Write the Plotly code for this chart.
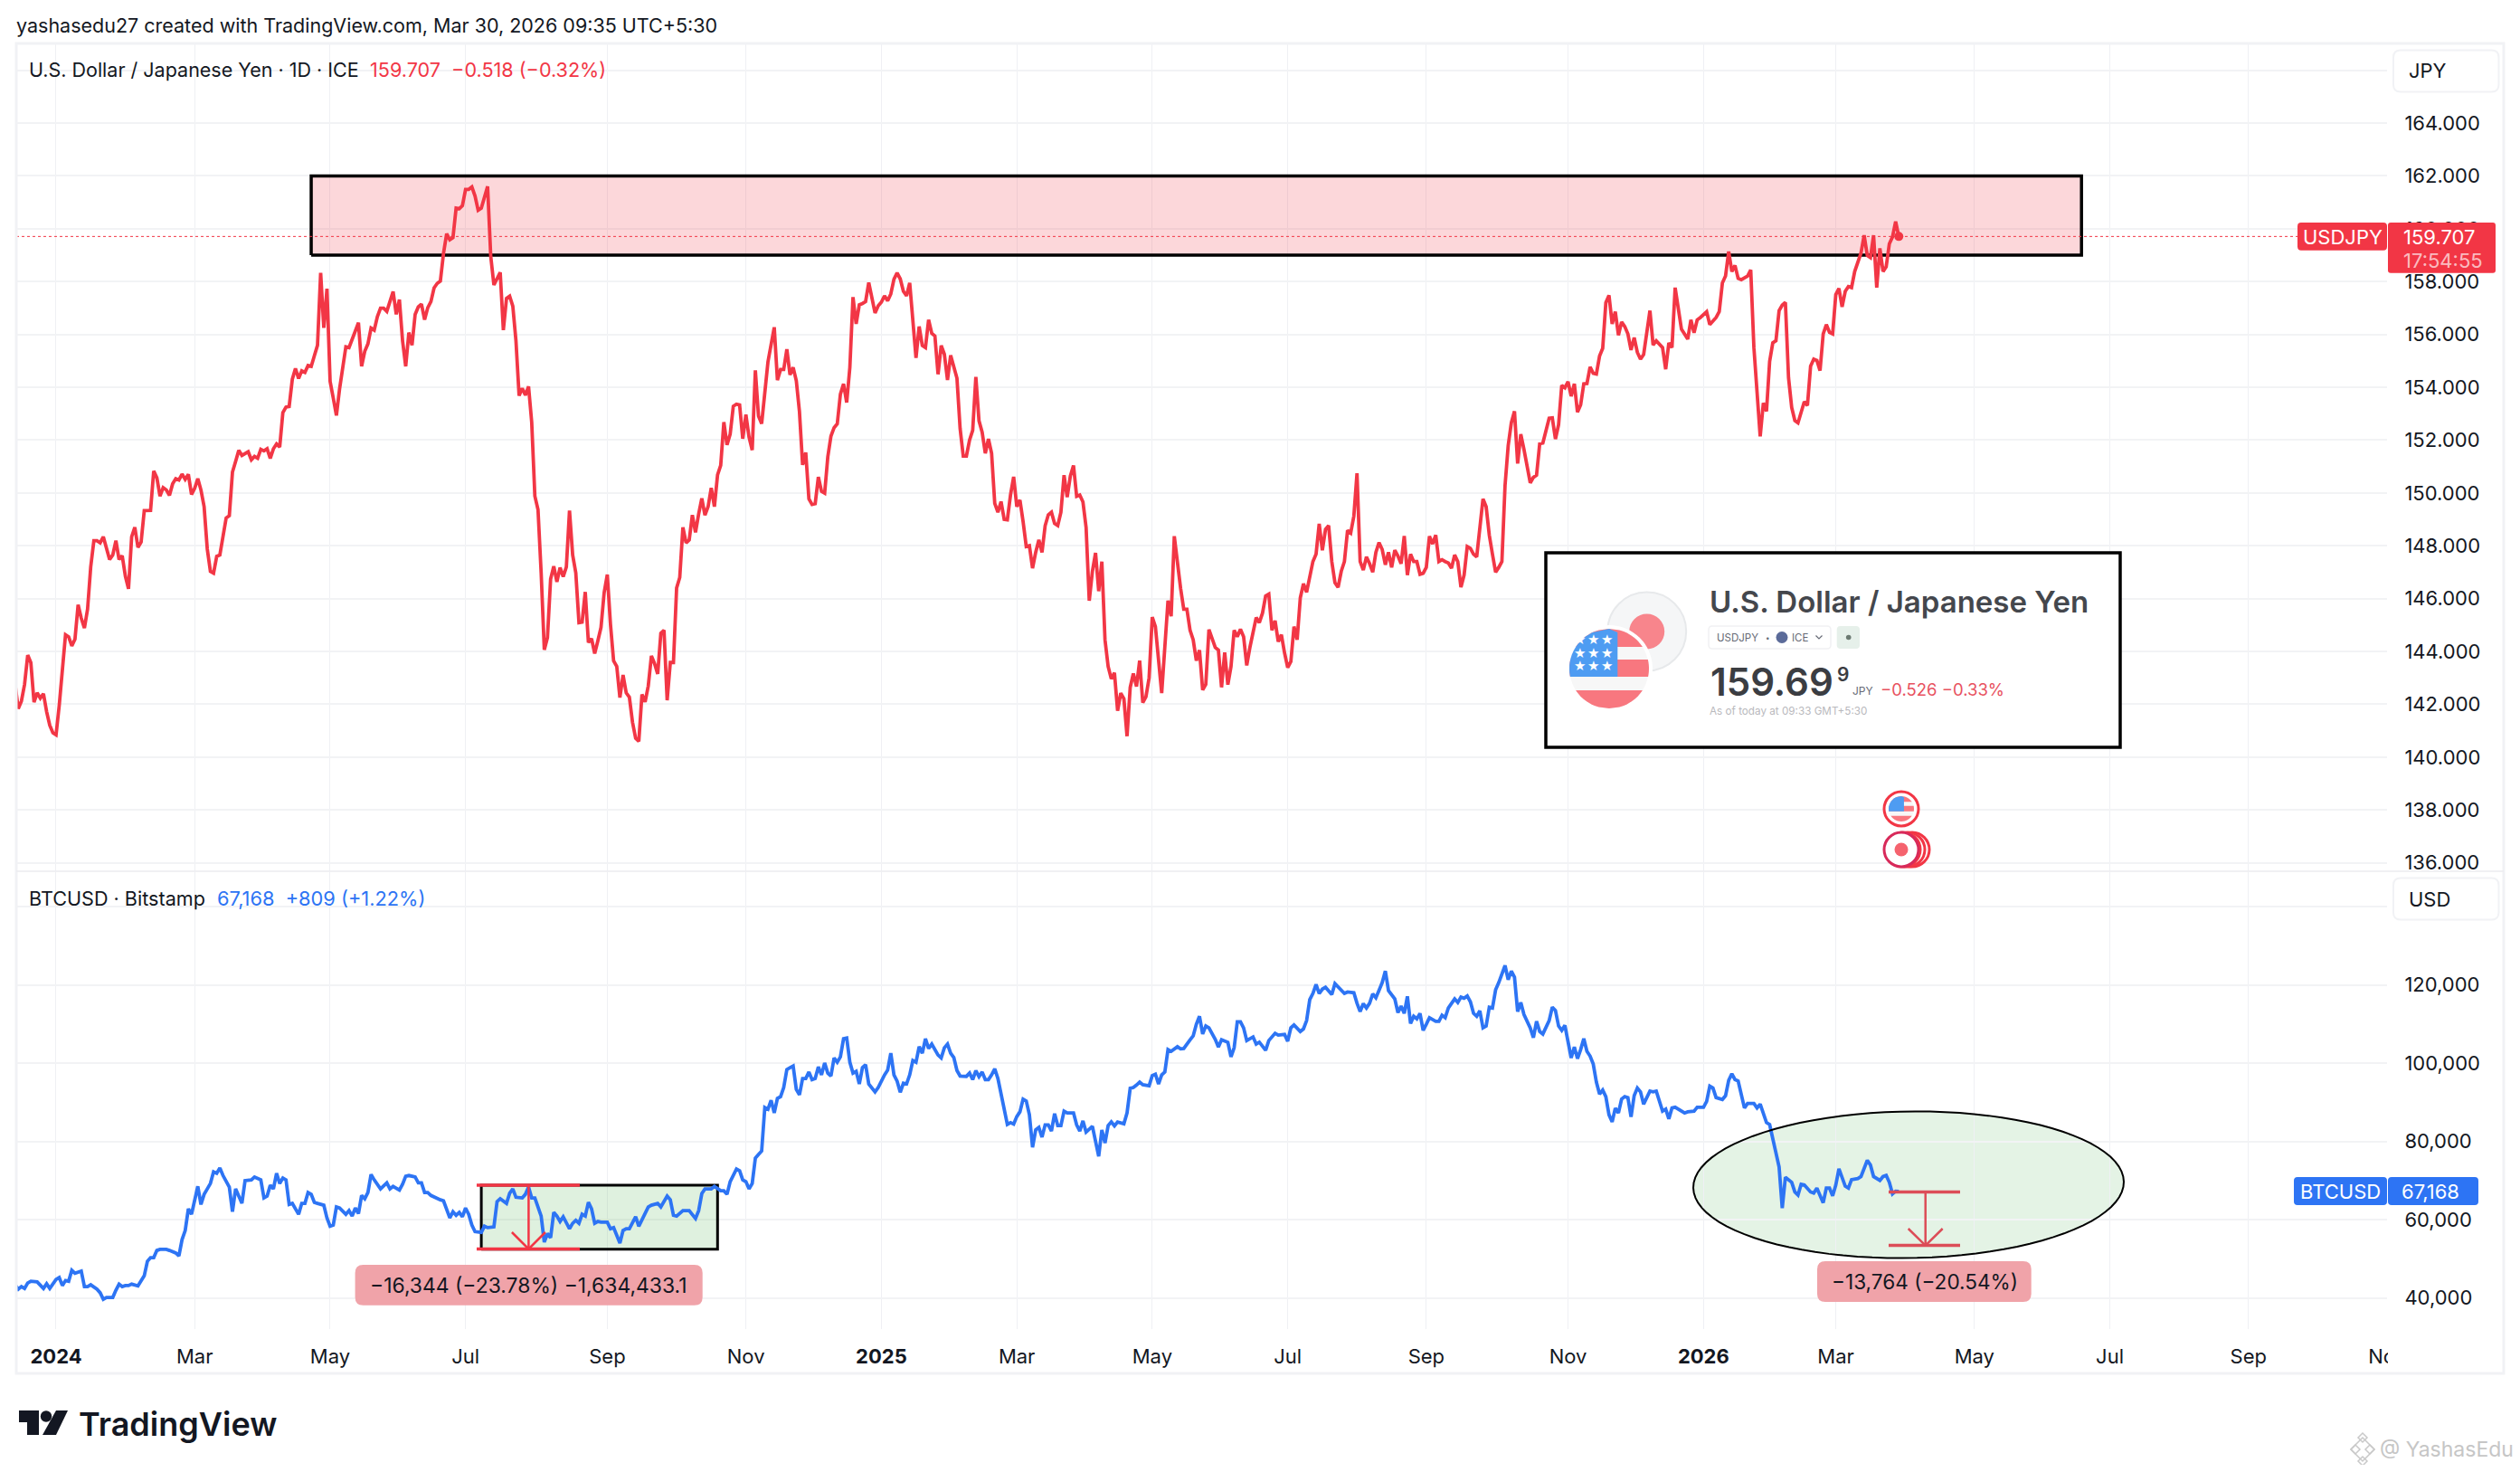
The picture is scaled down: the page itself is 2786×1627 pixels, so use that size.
import math
import numpy as np
import pandas as pd
from plotly.subplots import make_subplots
from plotly import graph_objects as go

# the page body keeps its 8px margin, so the figure is that much smaller than the window
PAGE_W = 2786
PAGE_H = 1627
PAD = 8
W = PAGE_W - 2 * PAD
H = PAGE_H - 2 * PAD
RED = '#f23645'
BLUE = '#2d74f4'
INK = '#131722'

# bar number = weekday count from 1 Jan 2024, the way the time scale spaces them
usdjpy_bars = [
    -13, -12, -11, -10, -9, -8, -7, -6, -5, -4,
    -3, -2, -1, 0, 1, 2, 3, 4, 5, 6,
    7, 8, 9, 10, 11, 12, 13, 14, 15, 17,
    18, 19, 20, 21, 22, 23, 24, 25, 26, 27,
    28, 30, 31, 32, 33, 34, 35, 36, 37, 38,
    39, 40, 41, 42, 43, 44, 45, 46, 47, 48,
    49, 50, 51, 52, 53, 54, 55, 56, 57, 58,
    59, 61, 62, 63, 64, 65, 66, 67, 68, 69,
    70, 71, 72, 73, 74, 75, 76, 77, 78, 79,
    80, 81, 82, 83, 84, 85, 86, 87, 88, 89,
    90, 91, 92, 93, 94, 95, 96, 97, 98, 99,
    100, 101, 102, 103, 104, 105, 107, 108, 109, 110,
    111, 112, 113, 114, 115, 116, 117, 118, 119, 120,
    121, 122, 123, 124, 125, 126, 127, 128, 129, 130,
    131, 132, 133, 134, 135, 137, 138, 139, 141, 142,
    143, 144, 145, 146, 147, 148, 149, 150, 151, 152,
    153, 154, 155, 156, 157, 158, 159, 160, 161, 162,
    163, 164, 165, 166, 167, 168, 169, 170, 171, 172,
    173, 174, 175, 176, 177, 178, 179, 180, 181, 182,
    183, 184, 185, 186, 187, 188, 189, 190, 191, 192,
    193, 194, 195, 196, 197, 198, 199, 200, 201, 202,
    203, 204, 205, 206, 207, 208, 209, 210, 211, 212,
    213, 214, 215, 216, 217, 218, 219, 220, 221, 222,
    223, 224, 225, 226, 228, 229, 230, 231, 232, 233,
    234, 235, 236, 237, 238, 239, 240, 241, 242, 243,
    244, 245, 246, 247, 248, 249, 250, 251, 252, 253,
    254, 255, 256, 257, 258, 260, 261, 262, 263, 264,
    265, 266, 267, 268, 269, 270, 271, 272, 273, 274,
    275, 276, 277, 278, 279, 280, 281, 282, 283, 284,
    285, 286, 287, 288, 289, 290, 291, 292, 293, 294,
    295, 296, 297, 298, 299, 300, 301, 302, 303, 304,
    305, 306, 307, 308, 309, 310, 311, 312, 313, 314,
    315, 316, 317, 318, 319, 320, 321, 322, 323, 324,
    325, 326, 327, 328, 329, 330, 331, 332, 333, 334,
    335, 336, 337, 338, 339, 340, 341, 342, 343, 344,
    345, 346, 347, 348, 349, 350, 351, 353, 354, 355,
    356, 357, 358, 359, 360, 361, 362, 363, 364, 365,
    366, 368, 369, 370, 371, 372, 373, 374, 375, 376,
    377, 378, 379, 380, 381, 382, 383, 384, 385, 386,
    387, 388, 389, 390, 391, 392, 393, 394, 395, 396,
    397, 399, 400, 401, 402, 403, 404, 405, 406, 407,
    408, 409, 410, 411, 412, 413, 414, 415, 416, 417,
    418, 419, 420, 421, 422, 423, 424, 425, 426, 427,
    428, 429, 430, 431, 432, 433, 434, 435, 436, 437,
    438, 439, 440, 441, 442, 443, 444, 445, 446, 447,
    448, 449, 450, 451, 452, 453, 454, 455, 456, 457,
    458, 459, 460, 461, 462, 463, 464, 465, 466, 467,
    468, 469, 470, 471, 472, 474, 475, 476, 477, 478,
    479, 480, 481, 482, 483, 484, 485, 486, 487, 488,
    489, 490, 491, 492, 493, 494, 495, 496, 497, 498,
    499, 500, 501, 502, 503, 504, 506, 507, 508, 510,
    511, 512, 513, 514, 515, 516, 518, 519, 520, 521,
    522, 524, 525, 527, 528, 529, 530, 531, 532, 533,
    534, 535, 537, 538, 539, 540, 541, 542, 543, 544,
    545, 546, 547, 548, 549, 550, 551, 552, 553, 555,
    556, 557, 558, 559, 560, 561, 562, 563, 564, 565,
    566, 567, 568, 569, 570, 571, 573, 574, 575, 576,
    577, 578, 579, 580, 581, 582, 583, 584, 585,
]
usdjpy_close = [
    142.75, 141.83, 142.12, 142.75, 143.86, 143.57, 142.08, 142.43, 142.23, 142.40,
    141.72, 141.20, 140.92, 140.84, 141.95, 143.2, 144.63, 144.55, 144.21, 144.46,
    145.77, 145.26, 144.88, 145.60, 147.20, 148.19, 148.19, 148.11, 148.34, 147.48,
    147.65, 148.19, 147.48, 147.62, 146.85, 146.37, 148.34, 148.70, 147.94, 148.14,
    149.33, 149.34, 150.83, 150.57, 149.88, 150.2, 150.11, 149.91, 150.34, 150.54,
    150.49, 150.71, 150.51, 150.70, 149.94, 150.17, 150.54, 150.11, 149.48, 147.88,
    147.03, 146.96, 147.6, 147.65, 148.45, 149.05, 149.14, 150.79, 151.19, 151.61,
    151.42, 151.56, 151.25, 151.38, 151.31, 151.65, 151.59, 151.67, 151.31, 151.67,
    151.85, 151.74, 153.04, 153.25, 153.27, 154.30, 154.71, 154.33, 154.62, 154.56,
    154.82, 154.79, 155.19, 155.59, 158.33, 156.25, 157.73, 154.22, 153.59, 152.93,
    153.93, 154.79, 155.53, 155.5, 155.82, 156.21, 156.44, 154.79, 155.36, 155.64,
    156.24, 156.16, 156.67, 156.99, 156.99, 156.87, 157.62, 156.76, 157.32, 155.76,
    154.79, 156.07, 155.59, 156.76, 157.04, 157.15, 156.56, 157.01, 157.24, 157.76,
    157.93, 158.02, 159.07, 159.81, 159.58, 159.66, 160.78, 160.76, 160.87, 161.49,
    161.49, 161.58, 161.24, 160.7, 160.78, 161.6, 158.95, 157.87, 158.35, 156.16,
    157.36, 157.45, 157.07, 155.76, 153.68, 153.96, 153.7, 154.03, 152.68, 149.88,
    149.37, 146.97, 144.06, 144.52, 146.74, 147.22, 146.63, 147.17, 146.83, 147.2,
    149.33, 147.65, 146.97, 145.09, 145.11, 146.25, 144.34, 144.48, 143.92, 144.4,
    144.91, 146.23, 146.91, 145.03, 143.64, 143.43, 142.25, 143.11, 142.43, 142.27,
    141.32, 140.71, 140.6, 142.37, 142.09, 142.69, 143.83, 143.54, 143.15, 144.69,
    144.8, 142.15, 143.58, 143.58, 146.40, 146.8, 148.7, 148.11, 148.22, 149.16,
    148.51, 149.2, 149.79, 149.16, 149.48, 150.19, 149.48, 150.68, 151.04, 152.68,
    151.82, 152.22, 153.28, 153.36, 153.33, 152.05, 152.96, 152.11, 151.62, 154.64,
    152.91, 152.62, 153.93, 154.96, 156.27, 154.27, 154.67, 154.67, 155.44, 154.47,
    154.75, 154.25, 153.08, 151.06, 151.53, 149.77, 149.56, 149.59, 150.6, 150.06,
    149.99, 151.36, 152.15, 152.47, 152.61, 153.74, 154.13, 153.42, 154.75, 157.41,
    156.4, 157.12, 157.17, 157.24, 157.96, 156.81, 157.08, 157.22, 157.46, 157.27,
    157.53, 158.09, 158.33, 158.1, 157.63, 157.46, 157.95, 156.40, 155.11, 156.3,
    155.58, 155.5, 156.55, 156.04, 155.94, 154.49, 155.58, 155.25, 154.27, 155.21,
    154.75, 154.34, 152.44, 151.39, 151.39, 152.0, 152.37, 154.39, 152.73, 152.3,
    151.5, 152.04, 151.5, 149.6, 149.27, 149.67, 149.0, 148.98, 149.92, 150.61,
    149.48, 149.73, 148.91, 147.97, 148.0, 147.15, 147.75, 148.22, 147.75, 148.76,
    149.17, 149.27, 148.84, 148.76, 149.27, 150.67, 149.84, 150.64, 151.04, 149.87,
    149.92, 149.66, 148.69, 145.92, 147.03, 147.73, 146.28, 147.4, 144.44, 143.43,
    142.96, 143.19, 141.75, 142.42, 142.21, 140.79, 142.64, 143.16, 142.67, 143.65,
    142.06, 142.28, 143.0, 145.3, 144.94, 143.65, 142.42, 145.92, 145.33, 148.36,
    147.25, 146.39, 145.6, 145.6, 144.8, 144.44, 143.65, 144.05, 142.54, 142.75,
    144.83, 144.15, 144.05, 142.64, 143.96, 142.74, 143.43, 144.8, 144.56, 144.84,
    144.56, 143.47, 144.15, 144.8, 145.28, 145.09, 145.45, 146.1, 146.17, 144.8,
    145.16, 144.37, 144.63, 143.94, 143.39, 143.62, 144.94, 144.44, 146.03, 146.56,
    146.24, 147.4, 147.68, 148.83, 147.83, 148.62, 148.76, 147.4, 146.6, 146.43,
    147.03, 147.4, 148.58, 148.48, 149.12, 150.74, 147.4, 147.08, 147.58, 147.32,
    147.0, 147.75, 148.12, 147.86, 147.28, 147.75, 147.18, 147.83, 147.61, 147.32,
    148.37, 146.89, 147.68, 147.4, 147.4, 146.92, 146.96, 147.18, 148.36, 148.07,
    148.4, 147.4, 147.47, 147.4, 147.35, 147.15, 147.65, 147.4, 146.43, 146.89,
    147.97, 147.9, 147.68, 147.58, 148.76, 149.77, 149.48, 148.4, 147.68, 147.0,
    147.18, 147.4, 150.28, 151.79, 152.66, 153.09, 151.11, 152.22, 151.65, 151.0,
    150.38, 150.59, 150.67, 151.86, 151.89, 152.83, 152.84, 152.04, 152.58, 154.07,
    153.98, 154.21, 153.66, 154.13, 153.06, 153.33, 154.13, 154.14, 154.77, 154.53,
    154.5, 155.18, 155.47, 157.2, 157.48, 156.4, 156.86, 155.97, 156.47, 156.3,
    156.02, 155.41, 155.88, 155.32, 155.06, 155.24, 156.9, 155.6, 155.76, 155.5,
    154.68, 155.68, 155.5, 157.77, 156.9, 156.2, 155.82, 156.55, 156.06, 156.55,
    156.64, 156.86, 156.37, 156.64, 156.86, 157.95, 158.21, 159.14, 158.38, 158.61,
    158.12, 158.07, 158.21, 158.44, 155.5, 153.58, 152.14, 153.4, 153.09, 154.98,
    155.68, 155.76, 156.9, 157.11, 157.21, 154.36, 153.23, 152.74, 152.65, 153.45,
    153.31, 154.8, 155.06, 155.01, 154.63, 156.02, 156.37, 156.08, 156.02, 157.51,
    157.74, 157.04, 157.63, 157.81, 157.77, 158.38, 159.08, 159.75, 158.99, 158.91,
    159.75, 157.77, 159.26, 158.38, 158.56, 159.43, 159.69, 160.27, 159.707,
]

btc_bars = [
    -13, -12, -11, -10, -9, -8, -6, -5, -4, -3,
    -2, 0, 1, 2, 3, 4, 5, 6, 8, 9,
    10, 11, 13, 14, 15, 16, 18, 19, 20, 21,
    22, 23, 24, 26, 27, 28, 29, 30, 31, 32,
    33, 35, 36, 38, 39, 40, 41, 42, 43, 45,
    46, 47, 48, 49, 50, 51, 52, 53, 55, 56,
    57, 59, 60, 62, 63, 65, 66, 67, 68, 69,
    70, 71, 72, 73, 74, 75, 77, 78, 79, 80,
    81, 82, 83, 85, 86, 87, 88, 89, 90, 92,
    93, 94, 95, 96, 97, 98, 99, 100, 101, 103,
    105, 106, 107, 109, 110, 111, 112, 114, 115, 116,
    117, 118, 119, 121, 122, 123, 125, 126, 127, 128,
    129, 130, 131, 132, 133, 135, 136, 137, 139, 140,
    141, 143, 144, 145, 146, 148, 149, 150, 151, 152,
    154, 155, 156, 157, 158, 159, 160, 161, 163, 164,
    165, 166, 167, 168, 169, 170, 171, 172, 173, 175,
    176, 177, 179, 180, 181, 182, 184, 185, 187, 188,
    189, 191, 192, 194, 195, 196, 197, 199, 201, 203,
    204, 205, 206, 208, 209, 211, 212, 213, 214, 216,
    217, 218, 219, 220, 221, 222, 223, 224, 225, 226,
    227, 228, 229, 230, 231, 232, 233, 234, 235, 236,
    237, 238, 239, 240, 241, 242, 243, 244, 245, 246,
    247, 248, 249, 250, 251, 252, 253, 254, 255, 256,
    257, 258, 260, 261, 263, 264, 265, 266, 267, 268,
    269, 270, 271, 272, 273, 274, 275, 276, 277, 278,
    280, 281, 282, 283, 284, 285, 286, 287, 289, 290,
    291, 292, 293, 294, 295, 296, 297, 298, 299, 300,
    301, 302, 303, 304, 305, 306, 307, 308, 309, 310,
    311, 312, 313, 314, 315, 316, 317, 318, 319, 320,
    321, 323, 324, 325, 326, 327, 329, 330, 331, 332,
    333, 334, 335, 336, 337, 339, 340, 341, 342, 343,
    344, 345, 347, 348, 349, 350, 351, 352, 353, 354,
    356, 357, 358, 360, 361, 362, 363, 364, 365, 366,
    368, 369, 370, 372, 373, 374, 375, 376, 377, 378,
    380, 381, 382, 384, 385, 387, 388, 390, 391, 392,
    393, 395, 396, 397, 398, 399, 400, 401, 402, 403,
    405, 406, 408, 409, 410, 412, 413, 414, 415, 416,
    417, 418, 419, 420, 421, 422, 423, 425, 426, 427,
    428, 429, 430, 431, 432, 433, 434, 435, 436, 438,
    439, 440, 441, 442, 444, 445, 446, 447, 448, 449,
    450, 451, 452, 453, 454, 455, 456, 457, 458, 460,
    461, 462, 463, 464, 465, 466, 468, 469, 470, 471,
    472, 474, 475, 476, 477, 478, 479, 480, 481, 482,
    483, 484, 485, 486, 487, 488, 489, 490, 491, 492,
    493, 494, 495, 496, 497, 498, 499, 500, 501, 502,
    503, 504, 506, 507, 508, 510, 511, 512, 513, 514,
    516, 517, 518, 520, 521, 523, 524, 525, 526, 527,
    529, 530, 531, 532, 533, 534, 536, 537, 539, 540,
    541, 543, 544, 545, 546, 547, 548, 549, 551, 552,
    553, 554, 555, 557, 558, 559, 561, 562, 563, 564,
    565, 566, 568, 569, 570, 572, 573, 575, 576, 577,
    579, 580, 581, 582, 583, 584, 585,
]
btc_close = [
    43330, 42220, 42870, 42400, 43790, 44250, 44070, 43140, 42400, 43610,
    42400, 44720, 45180, 43140, 44440, 44250, 47030, 46290, 46840, 42870,
    42870, 43330, 42220, 41290, 39630, 40090, 40090, 41940, 43510, 42870,
    43140, 43140, 43510, 43050, 44530, 45640, 49340, 50270, 50270, 52120,
    52390, 52390, 52120, 51470, 50730, 54890, 57200, 62750, 61360, 68490,
    63860, 66450, 67840, 69230, 72190, 71820, 73200, 71260, 68300, 62010,
    67840, 64140, 69970, 70150, 70890, 70150, 65530, 65990, 68760, 67840,
    71820, 69230, 70610, 70150, 63860, 64140, 61360, 64140, 64140, 66910,
    66450, 64420, 64140, 63680, 60440, 58310, 58590, 63220, 62950, 61360,
    62290, 60900, 62950, 61550, 66170, 65330, 66910, 71540, 70150, 67840,
    69410, 67840, 68490, 67560, 69040, 71080, 71260, 70890, 69410, 69410,
    66910, 66910, 66170, 65330, 65060, 64790, 60440, 62010, 61110, 61830,
    60720, 62950, 61360, 58590, 56930, 56740, 58310, 57940, 58130, 64600,
    65330, 64140, 66730, 67840, 65710, 65530, 66450, 68300, 65530, 65530,
    60900, 54240, 56460, 55350, 61830, 60900, 59510, 60720, 57670, 59050,
    59790, 59050, 61360, 60900, 64420, 62750, 59050, 59510, 59330, 59330,
    57670, 57940, 53970, 57200, 57670, 57670, 60720, 58310, 61830, 63220,
    63680, 64140, 63220, 65990, 65060, 61090, 60900, 62290, 62290, 60260,
    62290, 66640, 67840, 67840, 68490, 67360, 67360, 66450, 69690, 72930,
    72460, 70150, 69690, 67840, 69230, 75700, 76630, 77500, 88650, 88190,
    90500, 87260, 90960, 91420, 93730, 98360, 98824, 99270, 93270, 91887,
    96049, 96049, 97716, 95771, 96049, 99008, 96974, 100027, 97436, 96696,
    101320, 100211, 101598, 106223, 106408, 100211, 97436, 97899, 94661, 98824,
    99563, 94661, 92627, 93737, 96974, 98178, 102523, 96974, 95401, 92534,
    94847, 94661, 96974, 100673, 100211, 104188, 102523, 106223, 103725, 104835,
    102061, 101320, 103910, 104835, 102523, 101412, 98084, 96696, 96604, 97436,
    95771, 98084, 96511, 97716, 95771, 95771, 96974, 98546, 96049, 91887,
    88650, 84302, 84766, 84396, 86337, 87540, 90777, 90314, 86800, 78476,
    82915, 83563, 81066, 84210, 84210, 82638, 87078, 84025, 84025, 87725,
    87263, 87263, 84210, 82638, 85228, 82360, 83840, 79863, 76163, 82915,
    79584, 84025, 84950, 83932, 84950, 84488, 87263, 93552, 93737, 94384,
    95122, 94468, 94199, 96790, 97161, 94661, 96974, 97716, 103448, 102987,
    104188, 103633, 103725, 105945, 106963, 109922, 111957, 107425, 109459, 108997,
    106037, 104096, 105945, 105298, 101598, 103910, 110570, 110570, 108997, 105760,
    106685, 104835, 105331, 103263, 105760, 107605, 107148, 107333, 105575, 108997,
    109737, 108072, 108720, 110847, 116212, 117784, 120096, 117784, 118893, 119356,
    117506, 120281, 118709, 117784, 118154, 117969, 115287, 113160, 115195, 114084,
    115287, 117692, 116674, 118709, 120569, 123518, 118524, 116397, 112883, 114547,
    112697, 117044, 110108, 111957, 111309, 112697, 108350, 109922, 111587, 110655,
    110655, 112235, 111587, 114084, 116397, 115472, 116860, 116582, 117137, 115657,
    112697, 111957, 113344, 108997, 109459, 114269, 114084, 118709, 120569, 124906,
    121298, 123518, 121946, 113160, 115472, 112420, 108997, 106500, 110655, 108072,
    107425, 110847, 114269, 113437, 109459, 108350, 109645, 105483, 101320, 104096,
    101137, 103448, 106223, 102987, 101782, 99748, 95122, 92073, 93085, 91424,
    86800, 84950, 88464, 87263, 90777, 91424, 91169, 86249, 91661, 93629,
    92645, 89496, 92842, 92645, 92842, 87725, 88217, 85757, 88512, 88709,
    87725, 87233, 87528, 87725, 88709, 88709, 90185, 94121, 93629, 91169,
    90677, 91661, 95597, 97270, 95794, 95400, 88512, 89693, 89693, 88512,
    89496, 84773, 84281, 80837, 77393, 73457, 62928, 70800, 69521, 67061,
    66274, 69029, 68832, 67061, 66766, 68045, 64306, 68045, 68045, 66077,
    68832, 72965, 68537, 68045, 70210, 70505, 70997, 75130, 73949, 70997,
    70013, 70997, 71292, 69521, 66569, 67258, 67168,
]

month_ticks = ['2024-01-01', '2024-03-01', '2024-05-01', '2024-07-01', '2024-09-02', '2024-11-01',
               '2025-01-01', '2025-03-03', '2025-05-01', '2025-07-01', '2025-09-01', '2025-11-03',
               '2026-01-01', '2026-03-02', '2026-05-01', '2026-07-01', '2026-09-01', '2026-11-02']
month_labels = ['<b>2024</b>', 'Mar', 'May', 'Jul', 'Sep', 'Nov',
                '<b>2025</b>', 'Mar', 'May', 'Jul', 'Sep', 'Nov',
                '<b>2026</b>', 'Mar', 'May', 'Jul', 'Sep', 'Nov']
jpy_ticks = [136, 138, 140, 142, 144, 146, 148, 150, 152, 154, 156, 158, 160, 162, 164, 166]
usd_ticks = [40000, 60000, 80000, 100000, 120000, 140000]

resistance_bars = [81, 643]
resistance_band = [159.0, 162.0]
range_bars = [135, 210]
range_band = [52436, 68780]

sessions = pd.bdate_range('2023-12-13', periods=760)


def bar_dates(bars):
    return sessions[np.array(bars) + 13]


def fx(x):
    return (x - PAD) / W


def fy(y):
    return 1 - (y - PAD) / H


def poly(points):
    return 'M ' + ' L '.join('%.5f %.5f' % (fx(x), fy(y)) for x, y in points) + ' Z'


def rounded(x0, y0, x1, y1, r):
    return ('M %.5f %.5f L %.5f %.5f Q %.5f %.5f %.5f %.5f L %.5f %.5f Q %.5f %.5f %.5f %.5f '
            'L %.5f %.5f Q %.5f %.5f %.5f %.5f L %.5f %.5f Q %.5f %.5f %.5f %.5f Z') % (
        fx(x0 + r), fy(y0), fx(x1 - r), fy(y0), fx(x1), fy(y0), fx(x1), fy(y0 + r),
        fx(x1), fy(y1 - r), fx(x1), fy(y1), fx(x1 - r), fy(y1),
        fx(x0 + r), fy(y1), fx(x0), fy(y1), fx(x0), fy(y1 - r),
        fx(x0), fy(y0 + r), fx(x0), fy(y0), fx(x0 + r), fy(y0))


def disc_slice(cx, cy, r, x0, x1, y0, y1):
    # part of a disc inside a box, for the flag stripes
    ys = np.linspace(max(y0, cy - r), min(y1, cy + r), 14)
    right = [(min(x1, cx + math.sqrt(max(r * r - (y - cy) ** 2, 0))), y) for y in ys]
    left = [(max(x0, cx - math.sqrt(max(r * r - (y - cy) ** 2, 0))), y) for y in ys]
    return poly(right + left[::-1])


shapes = []
notes = []


def add_path(path, fill=None, line=None, width=0, layer='above'):
    shapes.append(dict(type='path', path=path, xref='paper', yref='paper', layer=layer,
                       fillcolor=fill or 'rgba(0,0,0,0)',
                       line=dict(color=line or 'rgba(0,0,0,0)', width=width)))


def add_rect(x0, y0, x1, y1, fill=None, line=None, width=0, layer='above'):
    shapes.append(dict(type='rect', xref='paper', yref='paper', layer=layer,
                       x0=fx(x0), x1=fx(x1), y0=fy(y1), y1=fy(y0),
                       fillcolor=fill or 'rgba(0,0,0,0)',
                       line=dict(color=line or 'rgba(0,0,0,0)', width=width)))


def add_disc(cx, cy, r, fill=None, line=None, width=0):
    shapes.append(dict(type='circle', xref='paper', yref='paper', layer='above',
                       x0=fx(cx - r), x1=fx(cx + r), y0=fy(cy + r), y1=fy(cy - r),
                       fillcolor=fill or 'rgba(0,0,0,0)',
                       line=dict(color=line or 'rgba(0,0,0,0)', width=width)))


def add_text(x, y, text, size, color=INK, anchor='left', family='Inter', weight=None):
    font = dict(family=family, size=size, color=color)
    if weight:
        font['weight'] = weight
    notes.append(dict(x=fx(x), y=fy(y), xref='paper', yref='paper', text=text, showarrow=False,
                      xanchor=anchor, yanchor='middle', borderpad=0, borderwidth=0, font=font))


def add_measure(x0, x1, xm, y0, y1, head_dx, head_y, color):
    for yy in (y0, y1):
        add_path(poly([(x0, yy), (x1, yy)]), line=color, width=3.5)
    add_path(poly([(xm, y0), (xm, y1)]), line=color, width=2.5)
    add_path(poly([(xm - head_dx, head_y), (xm, y1)]), line=color, width=2.5)
    add_path(poly([(xm + head_dx, head_y), (xm, y1)]), line=color, width=2.5)


def add_us_flag(cx, cy, r):
    add_disc(cx, cy, r, fill='#f7f7f7')
    sx = r / 44
    for top, bottom in ((-44, -24), (-10, 9), (24, 44)):
        add_path(disc_slice(cx, cy, r, cx - r, cx + r, cy + top * sx, cy + bottom * sx), fill='#f8777f')
    add_path(disc_slice(cx, cy, r, cx - r, cx + 9.3 * sx, cy - r, cy + 9 * sx), fill='#4e9cf2')


def add_zone(bars, band, fill, width, row):
    # a trace and not a shape, so the price line still runs over the black edge
    a, b = bar_dates(bars)
    fig.add_trace(go.Scatter(x=[a, b, b, a, a], y=[band[0], band[0], band[1], band[1], band[0]],
                             mode='lines', fill='toself', fillcolor=fill,
                             line=dict(color='black', width=width), hoverinfo='skip',
                             showlegend=False), row=row, col=1)


fig = make_subplots(rows=2, cols=1, shared_xaxes=True)

add_zone(resistance_bars, resistance_band, 'rgba(242,54,69,0.2)', 3.5, 1)
add_zone(range_bars, range_band, 'rgba(76,175,80,0.18)', 3, 2)

fig.add_trace(go.Scatter(x=bar_dates(usdjpy_bars), y=usdjpy_close, mode='lines',
                         line=dict(color=RED, width=3.8, shape='linear'), showlegend=False),
              row=1, col=1)
fig.add_trace(go.Scatter(x=bar_dates(usdjpy_bars[-1:]), y=usdjpy_close[-1:], mode='markers',
                         marker=dict(color=RED, size=10), showlegend=False), row=1, col=1)
fig.add_trace(go.Scatter(x=bar_dates(btc_bars), y=btc_close, mode='lines',
                         line=dict(color=BLUE, width=3.8, shape='linear'), showlegend=False),
              row=2, col=1)

shapes.append(dict(type='line', xref='paper', yref='y', layer='above',
                   x0=fx(18), x1=fx(2540), y0=usdjpy_close[-1], y1=usdjpy_close[-1],
                   line=dict(color=RED, width=1, dash='dot')))

# ellipse, slightly tilted as it was hand drawn
tilt = 0.0143
ring = []
for t in np.linspace(0, 2 * math.pi, 90, endpoint=False):
    ex, ey = 238 * math.cos(t), 81 * math.sin(t)
    ring.append((2110 + ex * math.cos(tilt) + ey * math.sin(tilt),
                 1309.5 - ex * math.sin(tilt) + ey * math.cos(tilt)))
add_path(poly(ring), fill='rgba(76,175,80,0.15)', layer='below')
add_path(poly(ring), line='black', width=2)

add_measure(527, 641, 584.4, 1310, 1380.5, 18.5, 1362, RED)
add_path(rounded(392.6, 1398, 776.7, 1442.8, 9), fill='#f0a3a9')
add_text(584.5, 1420.5, '−16,344 (−23.78%) −1,634,433.1', 22.9, anchor='center')
add_measure(2088, 2167, 2128.7, 1317.4, 1376.6, 19, 1358, '#dc4d58')
add_path(rounded(2009, 1394, 2245.7, 1439, 9), fill='#f0a3a9')
add_text(2127.5, 1416.5, '−13,764 (−20.54%)', 22.6, anchor='center')

# card pasted on the upper pane
add_rect(1709, 611, 2344, 826, fill='white', line='black', width=3.5)
add_disc(1820.7, 698, 43.5, fill='#f5f6f7', line='#e7e9eb', width=2)
add_disc(1820.7, 698, 19.5, fill='#f8858c')
add_disc(1779, 739, 48, fill='white')
add_us_flag(1779, 739, 44)
for star_y in (707.3, 721.7, 736.3):
    for star_x in (1746.7, 1761.7, 1776.7):
        add_text(star_x, star_y, '★', 15, color='white', anchor='center', family='DejaVu Sans')
add_text(1889.5, 665, 'U.S. Dollar / Japanese Yen', 33, color='#44474d', weight=600)
add_path(rounded(1889, 692, 2024, 717, 4), fill='white', line='#f1f1f3', width=1.5)
add_text(1898, 704.5, 'USDJPY', 11.5, color='#666a75')
add_text(1951.5, 704.5, '•', 8, color='#666a75')
add_disc(1970, 704.5, 6.5, fill='#5b6b99')
add_text(1980.5, 704.5, 'ICE', 11.5, color='#666a75')
add_path('M %.5f %.5f L %.5f %.5f L %.5f %.5f' % (fx(2007.5), fy(702.5), fx(2011), fy(706),
                                                  fx(2014.5), fy(702.5)),
         line='#666a75', width=1.2)
add_path(rounded(2030.7, 692, 2056, 717, 4), fill='#e6f0ea')
add_disc(2043.7, 704.5, 2.8, fill='#6c7a72')
add_text(1891, 753, '159.69', 42, color='#3b3d42', weight=600)
add_text(2030.5, 745, '9', 21, color='#3b3d42', weight=600)
add_text(2047.5, 763, 'JPY', 12, color='#666a75')
add_text(2079, 761.5, '−0.526 −0.33%', 18.5, color='#e8525f')
add_text(1889.5, 785.5, 'As of today at 09:33 GMT+5:30', 11.7, color='#b9b9bd')

# currency icons under the card
add_disc(2102, 894, 19, fill='white', line=RED, width=3)
add_us_flag(2102, 894, 14)
for off in (12, 7, 2):
    add_disc(2102 + off, 939, 19, fill='white', line=RED, width=3)
add_disc(2102, 939, 19, fill='white', line='#d82a5a', width=3)
add_disc(2102, 939, 7.5, fill='#f5636e')

# chart frame, pane divider and the boxes on the scale
add_rect(18, 48, 2768, 1518, line='#f1f2f5', width=3)
add_path(poly([(18, 963), (2768, 963)]), line='#ebecef', width=1.5)
add_rect(2640, 1472, 2766, 1515, fill='white')
add_path(rounded(2646, 55.5, 2762.5, 101.5, 8), fill='white', line='#f1f2f5', width=2)
add_text(2662.5, 78.5, 'JPY', 22)
add_path(rounded(2646, 970.5, 2762.5, 1016.5, 8), fill='white', line='#f1f2f5', width=2)
add_text(2662.5, 993.5, 'USD', 22)

add_path(rounded(2540, 246, 2639, 276.7, 4), fill=RED)
add_path(rounded(2640, 246, 2759, 301.7, 3), fill=RED)
add_text(2590, 261.5, 'USDJPY', 22, color='white', anchor='center')
add_text(2657, 261.5, '159.707', 22, color='white')
add_text(2657, 287.5, '17:54:55', 22, color='rgba(255,255,255,0.68)')

add_path(rounded(2536, 1301, 2639, 1332, 4), fill=BLUE)
add_path(rounded(2640, 1301, 2740, 1332, 4), fill=BLUE)
add_text(2587.5, 1316.5, 'BTCUSD', 22, color='white', anchor='center')
add_text(2655, 1316.5, '67,168', 22, color='white')

# header and pane legends
add_text(18, 28, 'yashasedu27 created with TradingView.com, Mar 30, 2026 09:35 UTC+5:30', 21.5)
add_text(32, 77, 'U.S. Dollar / Japanese Yen · 1D · ICE', 21.5)
add_text(409, 77, '159.707  −0.518 (−0.32%)', 21.6, color=RED)
add_text(32, 993, 'BTCUSD · Bitstamp', 21.6)
add_text(240, 993, '67,168  +809 (+1.22%)', 21.8, color=BLUE)

# logo and footer
add_path(poly([(21, 1559), (43, 1559), (43, 1586), (30, 1586), (30, 1572), (21, 1572)]), fill=INK)
add_disc(51, 1565.5, 6.2, fill=INK)
add_path(poly([(62, 1559), (75, 1559), (62, 1586), (47, 1586)]), fill=INK)
add_text(87, 1574, 'TradingView', 36, color=INK, weight=600)
for dx, dy, size in ((0, -13, 5), (-8, 0, 5), (8, 0, 5), (0, 13, 5), (0, 0, 13)):
    add_path(poly([(2612 + dx, 1602 + dy - size), (2612 + dx + size, 1602 + dy),
                   (2612 + dx, 1602 + dy + size), (2612 + dx - size, 1602 + dy)]),
             line='#c9c9c9', width=1.5)
add_text(2631, 1602, '@ YashasEdu', 23, color='#c6c6c6')

# the default template would let the tick labels push the margins and squeeze the chart
grid_v = dict(showgrid=True, gridcolor='#eff0f4', gridwidth=1, zeroline=False, showline=False,
              rangebreaks=[dict(bounds=['sat', 'mon'])], tickmode='array', automargin=False,
              tickvals=month_ticks, range=['2023-12-13 08:53', '2026-11-02'],
              domain=[fx(18), fx(2639)])
fig.update_layout(
    width=W, height=H, margin=dict(l=0, r=0, t=0, b=0, autoexpand=False),
    paper_bgcolor='white', plot_bgcolor='white', showlegend=False,
    font=dict(family='Inter', color=INK),
    shapes=shapes, annotations=notes,
    xaxis=dict(grid_v, ticktext=month_labels, showticklabels=False, ticks=''),
    xaxis2=dict(grid_v, ticktext=month_labels, showticklabels=True, ticks='outside', ticklen=11,
                tickcolor='rgba(0,0,0,0)', tickfont=dict(family='Inter', size=22, color=INK),
                tickangle=0, anchor='y2'),
    yaxis=dict(domain=[fy(963), fy(48)], range=[135.678, 167.014], side='right', tickmode='array',
               tickvals=jpy_ticks, ticktext=['%.3f' % t if t != 166 else '' for t in jpy_ticks],
               showgrid=True, gridcolor='#f2f3f5', gridwidth=2, zeroline=False, showline=False,
               ticks='outside', ticklen=14, tickcolor='rgba(0,0,0,0)', automargin=False,
               tickfont=dict(family='Inter', size=22, color=INK)),
    yaxis2=dict(domain=[fy(1469), fy(964)], range=[32023, 148786], side='right', tickmode='array',
                tickvals=usd_ticks, ticktext=['{:,}'.format(t) if t != 140000 else '' for t in usd_ticks],
                showgrid=True, gridcolor='#f2f3f5', gridwidth=2, zeroline=False, showline=False,
                ticks='outside', ticklen=14, tickcolor='rgba(0,0,0,0)', automargin=False,
                tickfont=dict(family='Inter', size=22, color=INK)),
)

fig.write_html("out.html")
